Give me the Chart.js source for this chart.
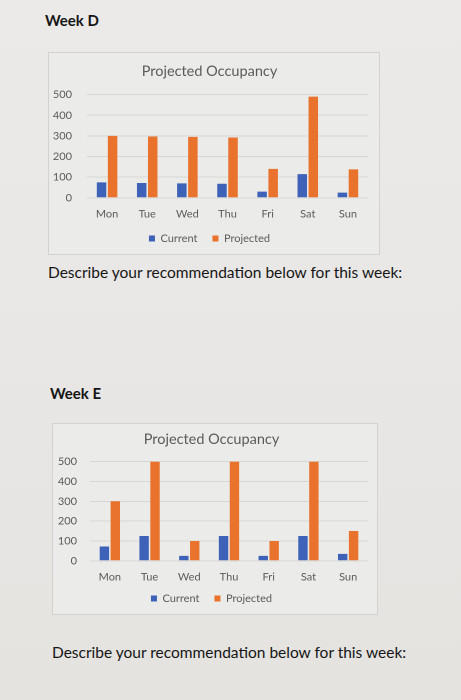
<!DOCTYPE html>
<html>
<head>
<meta charset="utf-8">
<script src="https://cdn.jsdelivr.net/npm/chart.js@4.4.1/dist/chart.umd.min.js"></script>
<style>
  html, body { margin: 0; padding: 0; }
  body {
    width: 461px; height: 700px; overflow: hidden; position: relative;
    background: linear-gradient(180deg, #ebeae8 0%, #e8e7e5 50%, #e4e3e0 100%);
    font-family: Lato, "Open Sans", sans-serif;
  }
  .txt { position: absolute; white-space: nowrap; color: #151515; }
  .head { font-weight: bold; font-size: 15px; line-height: 15px; }
  .desc { font-size: 15.5px; line-height: 16px; }
  .box { position: absolute; border: 1px solid #d2d2d0; background: #ebebe9; box-sizing: border-box; }
  .box canvas { position: absolute; left: 0; top: 0; }
</style>
</head>
<body>
<div class="txt head" style="left:45px; top:13px;">Week D</div>
<div class="box" style="left:48px; top:52px; width:332px; height:203px;"><canvas id="chartD"></canvas></div>
<div class="txt desc" style="left:48px; top:264px;">Describe your recommendation below for this week:</div>

<div class="txt head" style="left:50px; top:386px;">Week E</div>
<div class="box" style="left:52px; top:423px; width:326px; height:192px;"><canvas id="chartE"></canvas></div>
<div class="txt desc" style="left:52px; top:644px;">Describe your recommendation below for this week:</div>

<script>
const days = ["Mon", "Tue", "Wed", "Thu", "Fri", "Sat", "Sun"];
const seriesNames = ["Current", "Projected"];
const weekDCurrent = [75, 72, 70, 68, 30, 115, 25];
const weekDProjected = [300, 297, 295, 292, 140, 490, 138];
const weekECurrent = [72, 125, 25, 125, 25, 125, 35];
const weekEProjected = [300, 500, 100, 500, 100, 500, 150];
const yTicks = [0, 100, 200, 300, 400, 500];
const chartTitle = "Projected Occupancy";

const BLUE = "#3d62b8";
const ORANGE = "#e9722c";
const TXT = "#5a5a5a";

function makeChart(id, w, h, cur, proj, lay) {
  const cv = document.getElementById(id);
  cv.width = w; cv.height = h;
  cv.style.width = w + "px"; cv.style.height = h + "px";
  return new Chart(cv, {
    type: "bar",
    data: {
      labels: days,
      datasets: [
        { label: seriesNames[0], data: cur, backgroundColor: BLUE, categoryPercentage: 0.55, barPercentage: 0.86 },
        { label: seriesNames[1], data: proj, backgroundColor: ORANGE, categoryPercentage: 0.55, barPercentage: 0.86 }
      ]
    },
    options: {
      responsive: false,
      animation: false,
      devicePixelRatio: 2,
      layout: { padding: { left: 2, right: lay.right, top: 0, bottom: 0 } },
      plugins: {
        title: {
          display: true, text: chartTitle, color: TXT,
          font: { family: "Lato", size: 14.5, weight: "normal" },
          padding: { top: lay.tTop, bottom: lay.tBottom }
        },
        legend: {
          position: "bottom",
          labels: {
            color: TXT, boxWidth: 6, boxHeight: 6, padding: 15,
            font: { family: "Lato", size: 11 }
          }
        },
        tooltip: { enabled: false }
      },
      scales: {
        x: {
          afterFit: (s) => { s.height = lay.xHeight; s._computeLabelArea = () => undefined; },
          grid: { display: false, drawTicks: false },
          border: { display: false },
          ticks: { color: TXT, padding: 9.4, font: { family: "Lato", size: 11 } }
        },
        y: {
          min: yTicks[0], max: yTicks[yTicks.length - 1],
          afterBuildTicks: (s) => { s.ticks = yTicks.map(v => ({ value: v })); },
          afterFit: (s) => { s.width = lay.yWidth; },
          grid: { color: "#d6d6d4", lineWidth: 1, drawTicks: false },
          border: { display: false },
          ticks: { color: TXT, padding: lay.yPad, font: { family: "Lato", size: 11 } }
        }
      }
    }
  });
}

makeChart("chartD", 330, 201, weekDCurrent, weekDProjected,
  { right: 11, tTop: 9.6, tBottom: 14.6, xHeight: 20.2, yWidth: 36, yPad: 15 });
makeChart("chartE", 324, 190, weekECurrent, weekEProjected,
  { right: 9, tTop: 6.6, tBottom: 13.6, xHeight: 17.2, yWidth: 35, yPad: 13 });
</script>
</body>
</html>
